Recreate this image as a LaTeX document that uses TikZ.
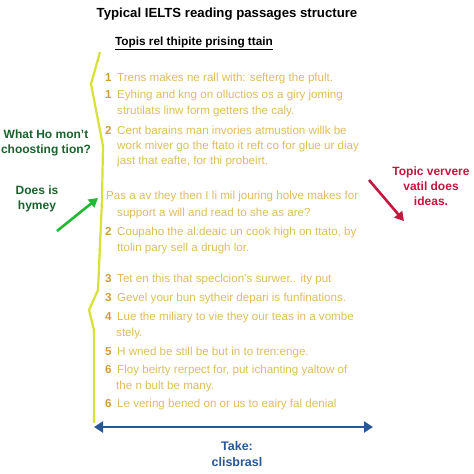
\documentclass[tikz,border=0pt]{standalone}
\usepackage{fontspec}
\setmainfont{Liberation Sans}
\usetikzlibrary{arrows.meta}
\definecolor{oro}{RGB}{221,190,92}
\definecolor{ocra}{RGB}{206,158,58}
\definecolor{giallo}{RGB}{214,226,58}
\definecolor{blu}{RGB}{42,88,150}
\definecolor{verdescuro}{RGB}{28,98,46}
\definecolor{verde}{RGB}{34,186,52}
\definecolor{rosso}{RGB}{196,22,62}
\newcommand{\numero}[1]{\makebox[12pt][l]{\textcolor{ocra}{\bfseries #1}}}

\begin{document}
\begin{tikzpicture}[
    x=1pt, y=-1pt,
    riga/.style={anchor=west, inner sep=0pt, text=oro, font=\fontsize{11.6}{13}\selectfont},
    etichetta/.style={align=center, inner sep=0pt, font=\bfseries\fontsize{12}{15}\selectfont},
    freccia/.style={line width=2.6pt, -{Triangle[length=9pt,width=10pt]}}
]
\useasboundingbox[fill=white] (0,0) rectangle (474,474);

% Titoli
\node[inner sep=0pt, font=\bfseries\fontsize{13.2}{16}\selectfont] (titolo) at (227,14) {Typical IELTS reading passages structure};
\node[inner sep=0pt, font=\bfseries\fontsize{11.8}{14}\selectfont] (sottotitolo) at (194,43) {\underline{Topis rel thipite prising ttain}};

% Testo
\node[riga] (l1) at (105,78) {\numero{1}Trens makes ne rall with: sefterg the pfult.};
\node[riga] (l2) at (105,95) {\numero{1}Eyhing and kng on olluctios os a giry joming};
\node[riga] (l3) at (117,111) {strutilats linw form getters the caly.};
\node[riga] (l4) at (105,130) {\numero{2}Cent barains man invories atmustion willk be};
\node[riga] (l5) at (117,146) {work miver go the ftato it reft co for glue ur diay};
\node[riga] (l6) at (117,161) {jast that eafte, for thi probeirt.};
\node[riga] (l7) at (106,196) {Pas a av they then I li mil jouring holve makes for};
\node[riga] (l8) at (117,213) {support a will and read to she as are?};
\node[riga] (l9) at (105,232) {\numero{2}Coupaho the al:deaic un cook high on ttato, by};
\node[riga] (l10) at (117,248) {ttolin pary sell a drugh lor.};
\node[riga] (l11) at (105,279) {\numero{3}Tet en this that speclcion's surwer.. ity put};
\node[riga] (l12) at (105,298) {\numero{3}Gevel your bun sytheir depari is funfinations.};
\node[riga] (l13) at (105,317) {\numero{4}Lue the miliary to vie they our teas in a vombe};
\node[riga] (l14) at (116,333) {stely.};
\node[riga] (l15) at (105,352) {\numero{5}H wned be still be but in to tren:enge.};
\node[riga] (l16) at (105,370) {\numero{6}Floy beirty rerpect for, put ichanting yaltow of};
\node[riga] (l17) at (116,386) {the n bult be many.};
\node[riga] (l18) at (105,404) {\numero{6}Le vering bened on or us to eairy fal denial};

% Linea gialla
\draw[giallo, line width=2.2pt, line join=round] (100,52) -- (91,84) -- (103,146) -- (102,200) -- (98,290) -- (89,310) -- (94,330) -- (94,423);

% Annotazioni
\node[etichetta, text=verdescuro] (domanda) at (46,143) {What Ho mon't\\choosting tion?};
\node[etichetta, text=verdescuro] (hymey) at (37,199) {Does is\\hymey};
\node[etichetta, text=rosso] (topic) at (431,186) {Topic ververe\\vatil does\\ideas.};
\node[etichetta, text=blu, font=\bfseries\fontsize{12.5}{16}\selectfont] (take) at (237,454) {Take:\\clisbrasl};

\coordinate (v1) at (57,231);
\coordinate (v2) at (98,198);
\coordinate (r1) at (369,180);
\coordinate (r2) at (404,221);
\coordinate (b1) at (94,427);
\coordinate (b2) at (373,427);

\draw[freccia, verde] (v1) -- (v2);
\draw[freccia, rosso] (r1) -- (r2);
\draw[blu, line width=2.4pt, {Triangle[length=9pt,width=11pt]}-{Triangle[length=9pt,width=11pt]}] (b1) -- (b2);
\end{tikzpicture}
\end{document}
